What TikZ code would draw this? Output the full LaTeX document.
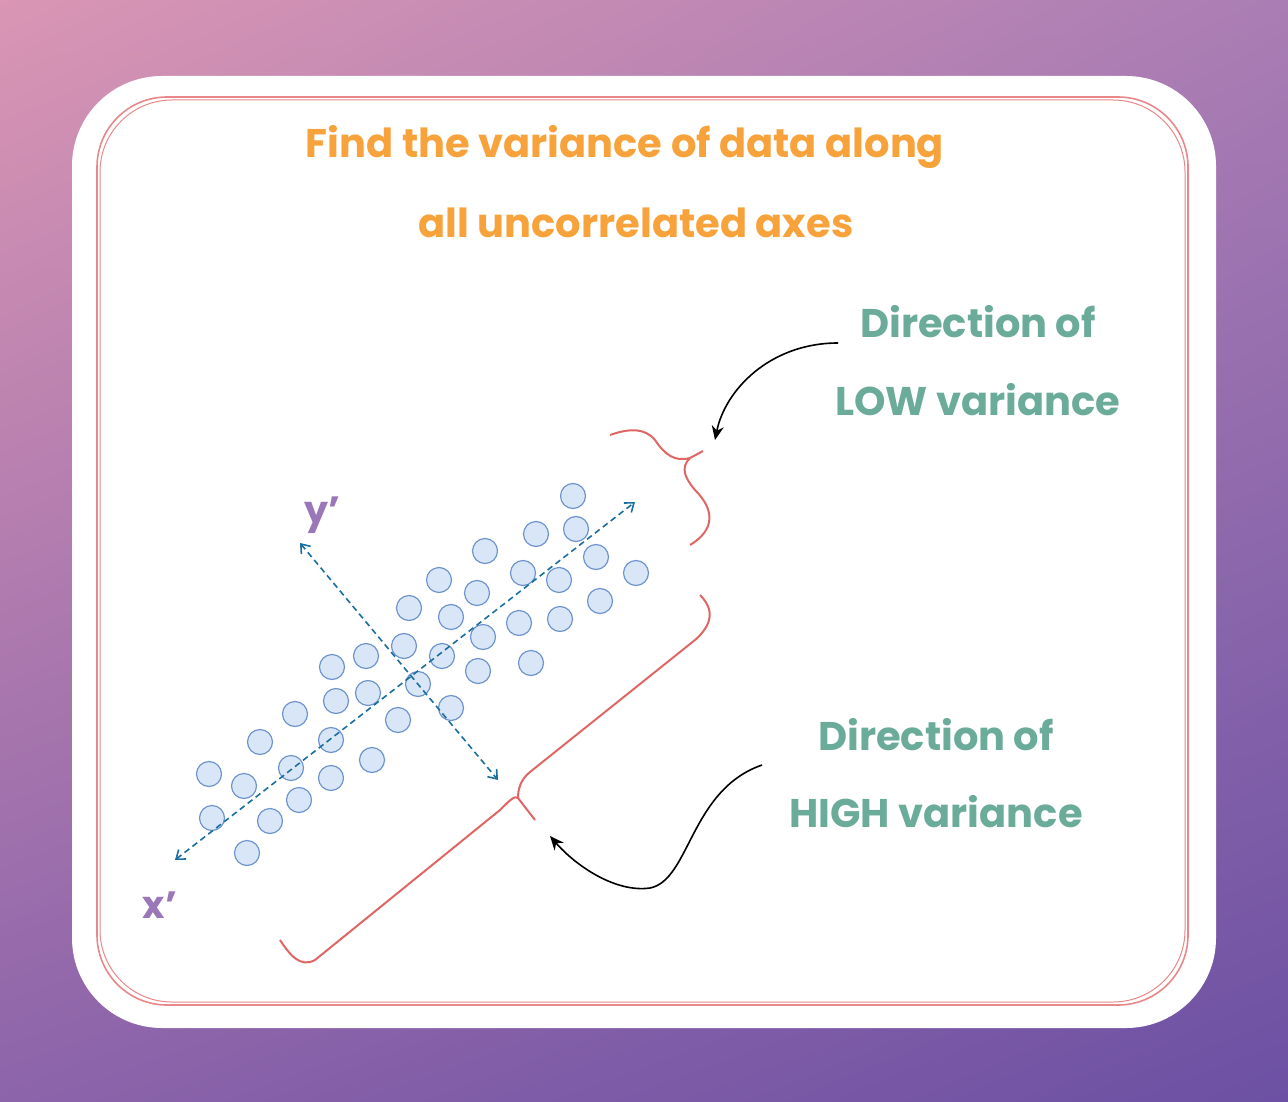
\documentclass[tikz,border=0pt]{standalone}
\usepackage{fontspec}
\setmainfont{Poppins}
\usetikzlibrary{arrows.meta,shadings}
\definecolor{ttl}{HTML}{F7A23A}
\definecolor{tea}{HTML}{6AAB99}
\definecolor{brd}{HTML}{E8888A}
\definecolor{brc}{HTML}{E06666}
\definecolor{axc}{HTML}{1A6FA0}
\definecolor{lab}{HTML}{9A77B8}
\definecolor{dfill}{HTML}{D8E6F8}
\definecolor{ddraw}{HTML}{6F95CC}
\definecolor{bgul}{HTML}{DA96B4}
\definecolor{bgur}{HTML}{AA7DB4}
\definecolor{bgll}{HTML}{8C64AA}
\definecolor{bglr}{HTML}{6C50A3}
\tikzset{
 dot/.style={circle,minimum size=12.5pt,inner sep=0,fill=dfill,draw=ddraw,line width=0.6pt},
 ttltxt/.style={text=ttl,font=\fontsize{20}{20}\selectfont\bfseries},
 teatxt/.style={text=tea,font=\fontsize{20}{20}\selectfont\bfseries},
 axis/.style={axc,densely dashed,line width=0.8pt,{Straight Barb[length=4pt,width=6pt]}-{Straight Barb[length=4pt,width=6pt]}},
 brace/.style={brc,line width=1pt,line join=round},
 point/.style={-{Stealth[length=7pt,width=6pt]},line width=0.8pt}
}
\begin{document}
\begin{tikzpicture}[x=0.5pt,y=-0.5pt]
\useasboundingbox (0,0) rectangle (1288,1101);
\shade[upper left=bgul,upper right=bgur,lower left=bgll,lower right=bglr] (0,0) rectangle (1288,1101);
\fill[white,rounded corners=45pt] (72,76) rectangle (1216,1028);
\draw[brd,line width=0.8pt,rounded corners=35pt] (97,97) rectangle (1188,1005);
\draw[brd,line width=0.5pt,rounded corners=36pt] (100,100) rectangle (1185,1002);
\node[ttltxt] (t1) at (625,147) {Find the variance of data along};
\node[ttltxt] (t2) at (636,223) {all uncorrelated axes};
\node[teatxt] (l1) at (978,322) {Direction of};
\node[teatxt] (l2) at (978,400) {LOW variance};
\node[teatxt] (h1) at (936,735) {Direction of};
\node[teatxt] (h2) at (936,812) {HIGH variance};
\foreach \x/\y [count=\i] in {573/496,536/534,576/529,485/551,596/557,523/573,559/580,636/573,439/580,477/593,409/608,451/617,600/601,519/623,560/619,483/637,404/646,366/656,332/667,442/656,478/671,531/663,418/684,368/693,336/701,295/714,451/708,398/720,260/742,331/740,372/760,209/774,244/786,291/768,331/778,299/800,212/818,270/821,247/853}
  \node[dot] (d\i) at (\x,\y) {};
\coordinate (xa) at (175,860); \coordinate (xb) at (635,502);
\coordinate (ya) at (300,543); \coordinate (yb) at (498,780);
\draw[axis] (xa) -- (xb);
\draw[axis] (ya) -- (yb);
\node[text=lab,font=\fontsize{19}{19}\selectfont\bfseries] (yl) at (322,515) {y'};
\node[text=lab,font=\fontsize{19}{19}\selectfont\bfseries] (xl) at (160,905) {x'};
% small brace
\draw[brace] (610,435) .. controls (630,428) and (645,428) .. (655,440)
  .. controls (665,455) and (675,462) .. (690,458) -- (703,451)
  (690,458) .. controls (680,468) and (685,478) .. (695,490)
  .. controls (715,510) and (715,530) .. (690,545);
% large brace
\draw[brace] (280,940) .. controls (290,955) and (300,968) .. (315,960)
  -- (500,810) .. controls (510,800) and (515,795) .. (518,798) -- (535,820)
  (518,798) .. controls (518,790) and (520,780) .. (530,772)
  -- (695,640) .. controls (712,625) and (715,610) .. (700,595);
\coordinate (a1) at (715,440);
\coordinate (a2) at (550,836);
\draw[point] (838,343) .. controls (770,343) and (725,390) .. (a1);
\draw[point] (762,765) .. controls (690,790) and (690,880) .. (650,888) .. controls (615,893) and (575,865) .. (a2);
\end{tikzpicture}
\end{document}
